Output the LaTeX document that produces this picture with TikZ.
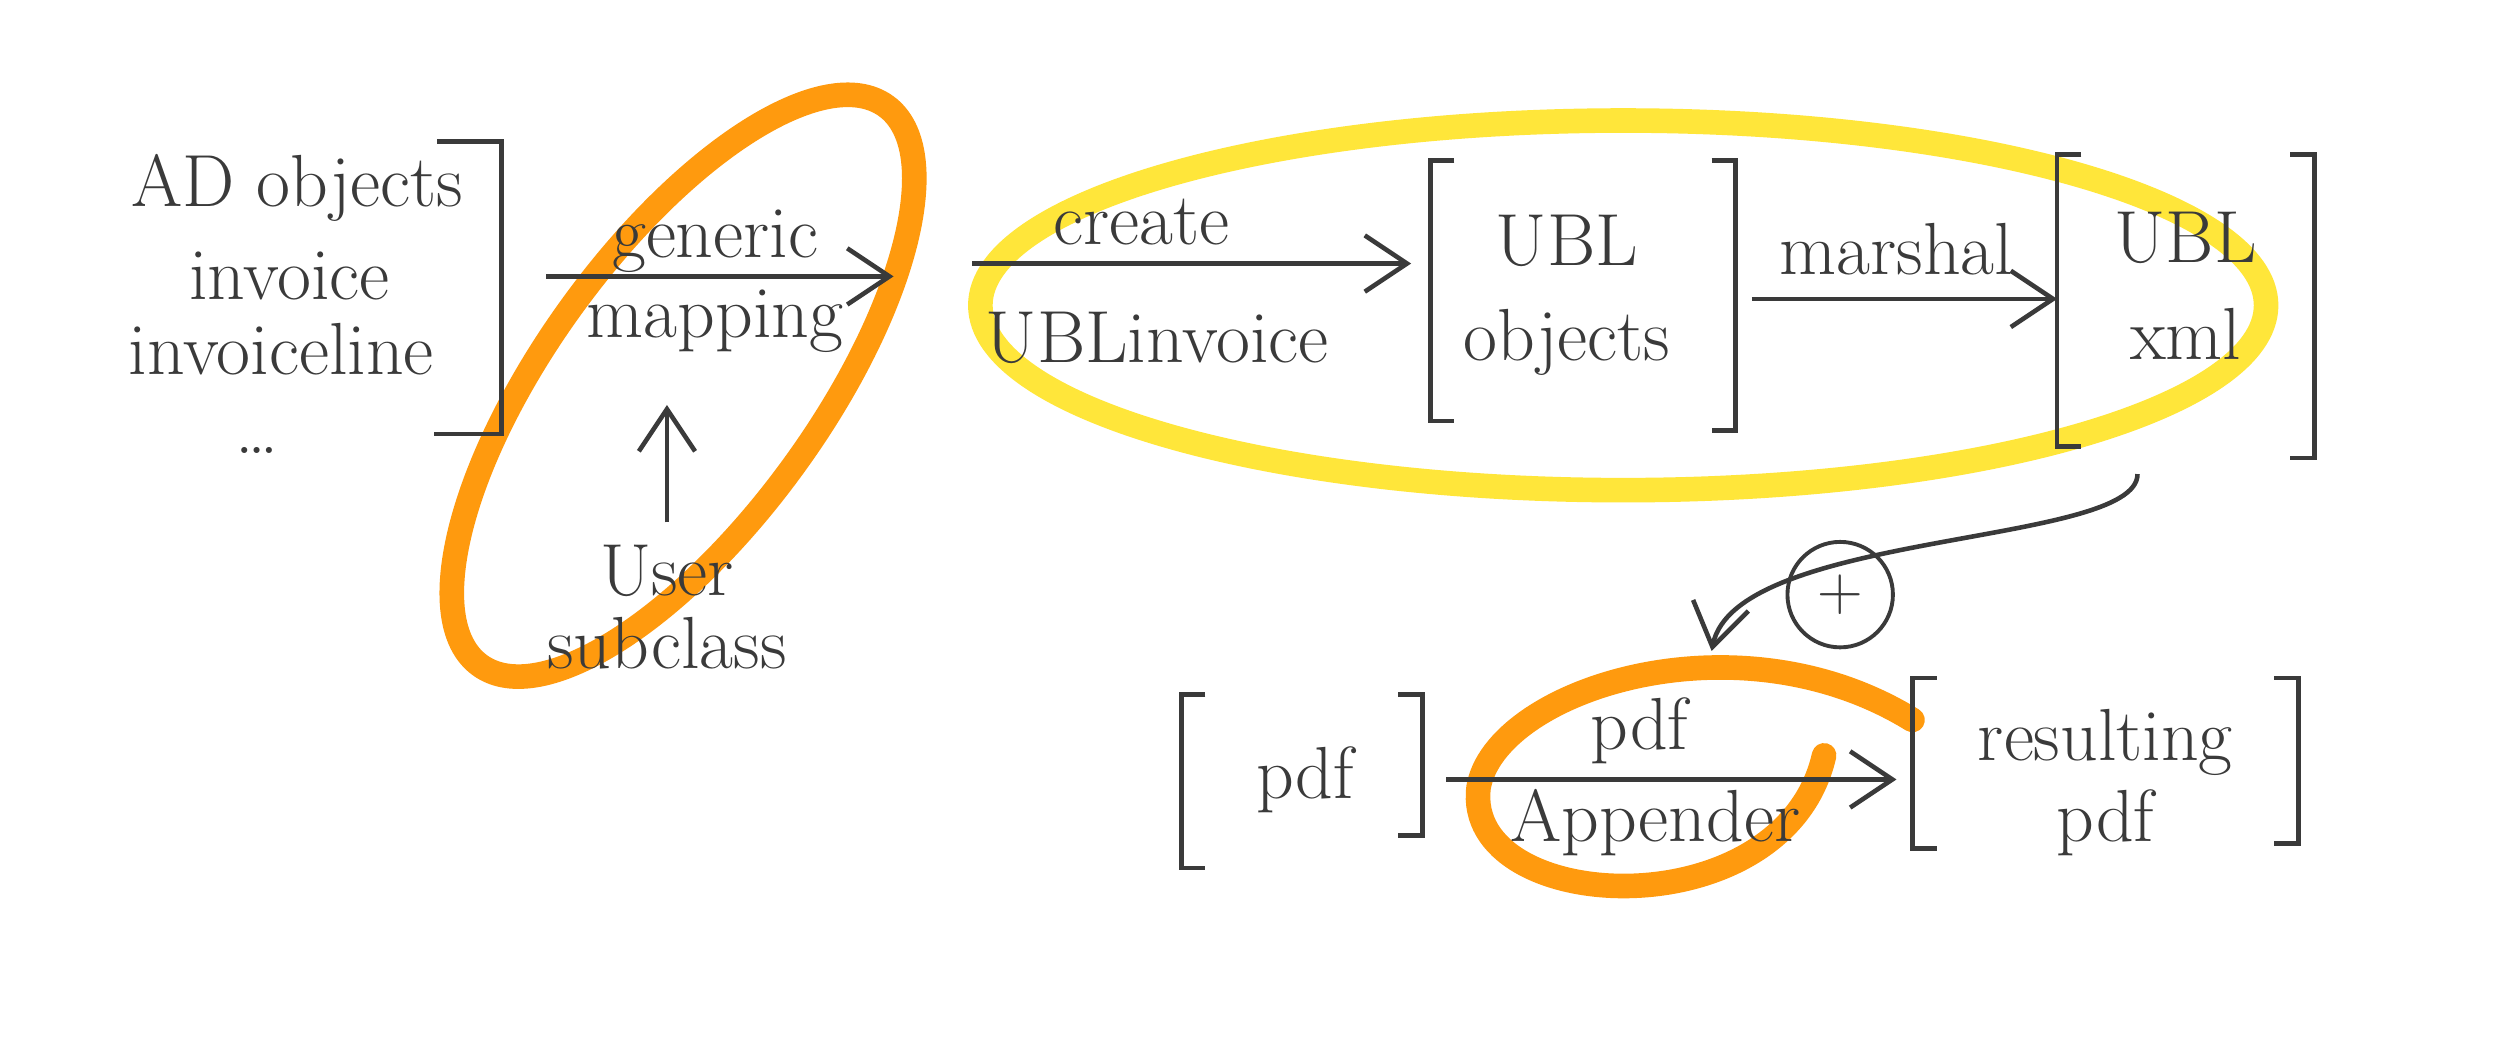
\documentclass[tikz,border=0pt]{standalone}
\usetikzlibrary{arrows.meta}
\definecolor{ink}{HTML}{3A3A3A}
\definecolor{hlorange}{HTML}{FF9A0E}
\definecolor{hlyellow}{HTML}{FFE63A}
\begin{document}
\begin{tikzpicture}[x=0.01607cm,y=-0.01607cm,
  txt/.style={text=ink,font=\fontsize{21}{25}\selectfont,inner sep=0pt},
  ln/.style={draw=ink,line width=1.3pt},
  arr/.style={ln,-{Straight Barb[length=12pt,width=16pt]}},
  hl/.style={line width=7pt,line cap=round}]
\fill[white] (0,0) rectangle (1568,662);
\useasboundingbox (0,0) rectangle (1568,662);
% highlights
\draw[hl,hlyellow] (1010,190) ellipse [x radius=400,y radius=115];
\draw[hl,hlorange,rotate around={-36:(425,240)}] (425,240) ellipse [x radius=85,y radius=215];
\draw[hl,hlorange] (1190,448) .. controls (1080,380) and (930,430) .. (920,490)
  .. controls (910,570) and (1110,580) .. (1135,470);
% AD objects
\node[txt] (ad1) at (185,117) {AD objects};
\node[txt] (ad2) at (180,172) {invoice};
\node[txt] (ad3) at (175,217) {invoiceline};
\node[txt] (ad4) at (160,280) {\dots};
\draw[ln] (272,88) -- (312,88) -- (312,270) -- (270,270);
% generic mapping
\node[txt] (g1) at (445,150) {generic};
\node[txt] (g2) at (445,200) {mapping};
\coordinate (ga) at (340,172); \coordinate (gb) at (556,172);
\draw[arr] (ga) -- (gb);
\node[txt] (u1) at (415,355) {User};
\node[txt] (u2) at (415,400) {subclass};
\coordinate (ua) at (415,325); \coordinate (ub) at (415,252);
\draw[arr] (ua) -- (ub);
% create
\node[txt] (c1) at (710,138) {create};
\node[txt] (c2) at (720,210) {UBLinvoice};
\coordinate (ca) at (605,164); \coordinate (cb) at (878,164);
\draw[arr] (ca) -- (cb);
% UBL objects
\node[txt] (o1) at (975,150) {UBL};
\node[txt] (o2) at (975,213) {objects};
\draw[ln] (905,100) -- (890,100) -- (890,262) -- (905,262);
\draw[ln] (1065,100) -- (1080,100) -- (1080,268) -- (1065,268);
% marshal
\node[txt] (m1) at (1180,155) {marshal};
\coordinate (ma) at (1090,186); \coordinate (mb) at (1280,186);
\draw[arr] (ma) -- (mb);
% UBL xml
\node[txt] (x1) at (1360,148) {UBL};
\node[txt] (x2) at (1360,208) {xml};
\draw[ln] (1295,96) -- (1280,96) -- (1280,278) -- (1295,278);
\draw[ln] (1425,96) -- (1440,96) -- (1440,285) -- (1425,285);
% curved arrow
\coordinate (sa) at (1330,295); \coordinate (sb) at (1065,405);
\draw[arr] (sa) .. controls (1330,340) and (1080,330) .. (sb);
\node[draw=ink,line width=1.1pt,circle,minimum size=30pt,inner sep=0pt,txt,font=\fontsize{18}{20}\selectfont] (plus) at (1145,370) {+};
% pdf
\node[txt] (p) at (812,485) {pdf};
\draw[ln] (750,432) -- (735,432) -- (735,540) -- (750,540);
\draw[ln] (870,432) -- (885,432) -- (885,520) -- (870,520);
\node[txt] (a1) at (1020,455) {pdf};
\node[txt] (a2) at (1030,512) {Appender};
\coordinate (aa) at (900,485); \coordinate (ab) at (1180,485);
\draw[arr] (aa) -- (ab);
% resulting pdf
\node[txt] (r1) at (1310,462) {resulting};
\node[txt] (r2) at (1310,512) {pdf};
\draw[ln] (1205,422) -- (1190,422) -- (1190,528) -- (1205,528);
\draw[ln] (1415,422) -- (1430,422) -- (1430,525) -- (1415,525);
\end{tikzpicture}
\end{document}
